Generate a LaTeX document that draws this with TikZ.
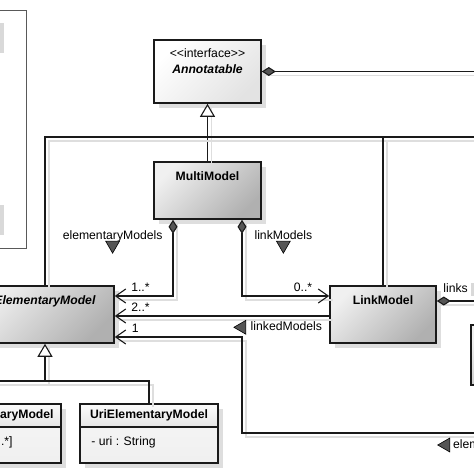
\documentclass[tikz,border=0pt]{standalone}
\usepackage{fontspec}
\newfontfamily\umlfont{Liberation Sans}
\usetikzlibrary{positioning, arrows.meta, shapes.geometric}

\definecolor{boxline}{HTML}{1A1A1A}
\definecolor{shadowgray}{HTML}{DEDEDE}
\definecolor{tipgray}{HTML}{555555}

\begin{document}
\begin{tikzpicture}[x=1pt, y=-1pt,
  font=\umlfont\fontsize{12.2}{14}\selectfont,
  klass/.style={rectangle, draw=boxline, line width=1.6pt, inner sep=0pt,
    top color=gray!12, bottom color=gray!62, shading angle=45,
    preaction={fill=shadowgray, transform canvas={shift={(5pt,-5pt)}}}},
  iface/.style={klass, top color=white, bottom color=gray!22, shading angle=45},
  header/.style={klass, top color=gray!3, bottom color=gray!20, shading angle=0},
  body/.style={klass, top color=gray!9, bottom color=gray!12, shading angle=0},
  frame/.style={rectangle, draw=gray!70!black, line width=0.8pt, inner sep=0pt},
  stub/.style={rectangle, fill=gray!30, inner sep=0pt},
  classname/.style={font=\umlfont\fontsize{12.2}{14}\selectfont\bfseries, inner sep=1pt},
  role/.style={inner sep=1pt, text height=9pt, text depth=2.5pt},
  mult/.style={role},
  navdown/.style={regular polygon, regular polygon sides=3, shape border rotate=180,
    minimum size=16pt, inner sep=0pt, draw=black, fill=tipgray, line width=0.6pt},
  navleft/.style={navdown, shape border rotate=90},
  shadowed/.style={preaction={draw=shadowgray, -, line width=1.5pt,
    transform canvas={shift={(4pt,-4pt)}}}},
  line/.style={draw=boxline, line width=1.1pt, shadowed},
  gen/.style={line, -{Triangle[open, fill=white, length=13pt, width=15pt]}},
  nav/.style={line, -{Straight Barb[length=10pt, width=14pt]}},
  whole/.style={line, {Diamond[length=14pt, width=9pt, fill=tipgray]}-},
  comp/.style={line, {Diamond[length=14pt, width=9pt, fill=tipgray]}-{Straight Barb[length=10pt, width=14pt]}}
]
\useasboundingbox (0,0) rectangle (474,474);

% Frame on the left
\node[frame, minimum width=46.5pt, minimum height=238pt] (pkg) at (3.25,129) {};
\node[stub, minimum width=24pt, minimum height=30pt] (stubtop) at (-8,38) {};
\node[stub, minimum width=24pt, minimum height=30pt] (stubbot) at (-8,220) {};

% Classes
\node[iface, minimum width=107pt, minimum height=63pt] (annot) at (207.5,71.5) {};
\node[below=8pt of annot.north, align=center, inner sep=1pt,
  font=\umlfont\fontsize{12.2}{16}\selectfont] (annotname) {<<interface>>\\\textbf{\textit{Annotatable}}};
\node[klass, minimum width=107pt, minimum height=57pt] (multi) at (207.5,190.5) {};
\node[classname, below=9pt of multi.north] (multiname) {MultiModel};
\node[klass, minimum width=138pt, minimum height=57pt] (elem) at (45,314.5) {};
\node[classname, below=9pt of elem.north] (elemname) {\textit{ElementaryModel}};
\node[klass, minimum width=106pt, minimum height=57pt] (link) at (383,314.5) {};
\node[classname, below=9pt of link.north] (linkname) {LinkModel};
\node[klass, minimum width=60pt, minimum height=60pt] (rightcls) at (501,355) {};
\node[stub, minimum width=10pt, minimum height=13pt] (linkstub) at (476,289.5) {};

% Subclasses
\node[header, minimum width=141pt, minimum height=23pt] (lefthead) at (-9.5,415.5) {};
\node[body, minimum width=141pt, minimum height=36pt, below=-1.6pt of lefthead] (leftbody) {};
\node[classname, anchor=east] (leftname) at ([xshift=-7pt]lefthead.east) {aryModel};
\node[role, anchor=east] (leftattr) at ([xshift=-48pt, yshift=3pt]leftbody.east) {..*]};
\node[header, minimum width=138pt, minimum height=23pt] (urihead) at (149,415.5) {};
\node[body, minimum width=138pt, minimum height=36pt, below=-1.6pt of urihead] (uribody) {};
\node[classname] (uriname) at (urihead) {UriElementaryModel};
\node[role, anchor=west] (uriattr) at ([xshift=11pt, yshift=3pt]uribody.west) {- uri : String};

% Generalizations
\coordinate (busend) at (480,137);
\coordinate (subjoin) at (45,381);
\draw[gen] (multi.north) -- (annot.south);
\draw[line] (elem.north) |- (busend);
\draw[line] (link.north) -- (link.north |- busend);
\draw[gen] (urihead.north) |- (subjoin) -- (elem.south);
\draw[line] (lefthead.north) |- (subjoin);

% Associations
\draw[whole] (annot.east) -- (annot.east -| busend);
\draw[comp] ([xshift=-34.5pt]multi.south) |- node[role, pos=0.11, left=9pt] (emrole) {elementaryModels}
  node[mult, pos=0.78, above=0pt] (emmult) {1..*} ([yshift=18.5pt]elem.east);
\node[navdown, below=-3pt of emrole] (emnav) {};
\draw[comp] ([xshift=34.5pt]multi.south) |- node[role, pos=0.11, right=11pt] (lmrole) {linkModels}
  node[mult, pos=0.85, above=0pt] (lmmult) {0..*} ([yshift=18.5pt]link.west);
\node[navdown, below=-3pt of lmrole] (lmnav) {};
\draw[nav] ([yshift=-1.5pt]link.west) -- node[mult, pos=0.88, above=0pt] (ldmult) {2..*}
  node[role, pos=0.2, below=4pt] (ldrole) {linkedModels} ([yshift=-1.5pt]elem.east);
\node[navleft, left=3pt of ldrole] (ldnav) {};
\coordinate (offlink) at (480,433);
\coordinate (elemin) at ([yshift=-22.5pt]elem.east);
\coordinate (mright) at ([xshift=34.5pt]multi.south);
\draw[nav] (offlink) -| (mright |- elemin) -- node[mult, pos=0.84, above=0pt] (elmult) {1} (elemin);
\node[role, anchor=west] (elrole) at (452,445) {elem};
\node[navleft, left=2pt of elrole] (elnav) {};
\coordinate (linksstart) at ([yshift=13.5pt]link.east);
\draw[whole] (linksstart) -- node[role, pos=0, anchor=south west, xshift=5pt, yshift=4pt] (linksrole) {links}
  (offlink |- linksstart);

\end{tikzpicture}
\end{document}
